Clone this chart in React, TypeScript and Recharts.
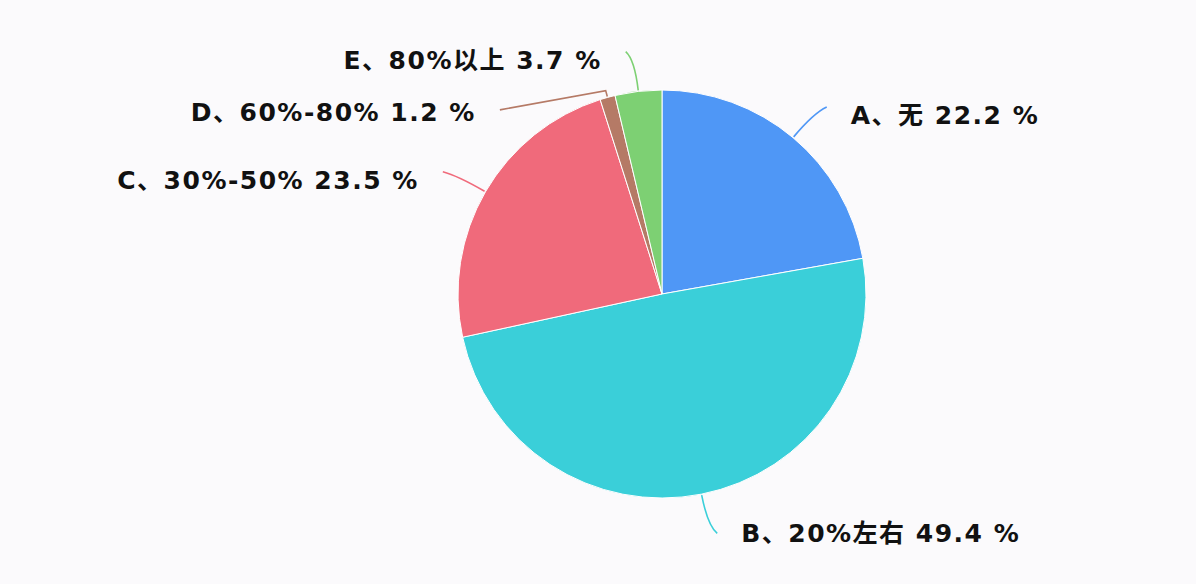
import { Cell, Pie, PieChart } from 'recharts';

// 各选项及占比
const categories = ['A、无', 'B、20%左右', 'C、30%-50%', 'D、60%-80%', 'E、80%以上'];
const shares = [22.2, 49.4, 23.5, 1.2, 3.7];
const COLORS = ['#4f97f6', '#3acfd9', '#f06a7b', '#b57a66', '#7dd073'];

// D 的标签被挤开，单独挪一下
const LABEL_SHIFT = [
  { x: 0, y: 0 },
  { x: 0, y: 0 },
  { x: 0, y: 0 },
  { x: -97, y: 51 },
  { x: 0, y: 0 },
];

const data = categories.map((name, i) => ({ name, value: shares[i] }));

const RADIAN = Math.PI / 180;

const polar = (cx: number, cy: number, r: number, angle: number) => ({
  x: cx + r * Math.cos(-angle * RADIAN),
  y: cy + r * Math.sin(-angle * RADIAN),
});

const labelGeom = (props: any) => {
  const { cx, cy, midAngle, outerRadius, index } = props;
  const side = Math.cos(-midAngle * RADIAN) >= 0 ? 1 : -1;
  const start = polar(cx, cy, outerRadius + 1, midAngle);
  const shift = LABEL_SHIFT[index];
  if (shift.x !== 0 || shift.y !== 0) {
    // 先往外一点，再折到标签处
    const elbow = polar(cx, cy, outerRadius + 7, midAngle);
    const base = polar(cx, cy, outerRadius + 40, midAngle);
    const end = { x: base.x + shift.x, y: base.y + shift.y };
    return { side, start, ctrl: elbow, end, elbow, textDy: 3 };
  }
  const ctrl = polar(cx, cy, outerRadius + 32, midAngle);
  const base = polar(cx, cy, outerRadius + 40, midAngle);
  const end = { x: base.x + side * 8, y: base.y };
  return { side, start, ctrl, end, elbow: null as any, textDy: end.y < cy ? 9 : 0 };
};

const renderLabelLine = (props: any) => {
  const g = labelGeom(props);
  const color = COLORS[props.index];
  const d = g.elbow
    ? `M${g.start.x},${g.start.y} L${g.elbow.x},${g.elbow.y} L${g.end.x},${g.end.y}`
    : `M${g.start.x},${g.start.y} Q${g.ctrl.x},${g.ctrl.y} ${g.end.x},${g.end.y}`;
  return <path key={`line-${props.index}`} d={d} stroke={color} strokeWidth={1.6} fill="none" />;
};

const renderLabel = (props: any) => {
  const g = labelGeom(props);
  const { index } = props;
  return (
    <text
      key={`label-${index}`}
      x={g.end.x + g.side * 24}
      y={g.end.y + g.textDy}
      textAnchor={g.side > 0 ? 'start' : 'end'}
      dominantBaseline="central"
      fill="#111111"
      fontSize={25}
      fontWeight="bold"
      letterSpacing={1.5}
      fontFamily="'DejaVu Sans', 'Noto Sans CJK SC', sans-serif"
    >
      {`${categories[index]} ${shares[index]} %`}
    </text>
  );
};

const App = () => {
  return (
    <div style={{ position: 'fixed', left: 0, top: 0, width: 1196, height: 584, background: '#fbfafc' }}>
      <PieChart width={1196} height={584} margin={{ top: 0, right: 0, bottom: 0, left: 0 }}>
        <Pie
          data={data}
          dataKey="value"
          nameKey="name"
          cx={662}
          cy={294}
          outerRadius={204}
          startAngle={90}
          endAngle={-270}
          stroke="#ffffff"
          strokeWidth={1}
          label={renderLabel}
          labelLine={renderLabelLine}
          isAnimationActive={false}
        >
          {data.map((entry, i) => (
            <Cell key={entry.name} fill={COLORS[i]} />
          ))}
        </Pie>
      </PieChart>
    </div>
  );
};

export default App;
